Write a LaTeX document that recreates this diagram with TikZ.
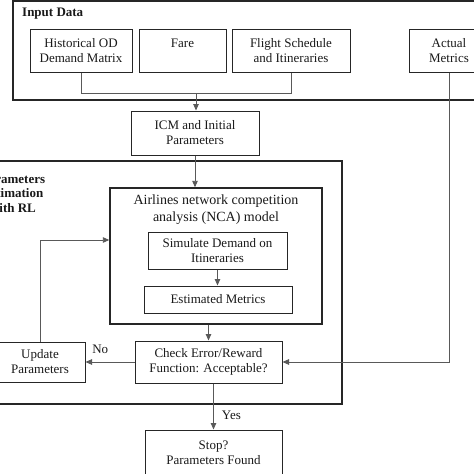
\documentclass[tikz,border=0pt]{standalone}
\usepackage{fontspec}
\setmainfont{Liberation Serif}
\usetikzlibrary{arrows.meta}
\begin{document}
\begin{tikzpicture}[x=1pt,y=-1pt,
  box/.style={draw=black!85,line width=1pt,align=center,inner sep=0pt,
    font=\fontsize{13}{15}\selectfont,text=black!90},
  frame/.style={draw=black!85,line width=1.5pt,inner sep=0pt},
  conn/.style={draw=black!65,line width=0.9pt},
  arr/.style={conn,-{Triangle[length=6.5pt,width=5.5pt]}},
  lbl/.style={font=\fontsize{13}{15}\selectfont,inner sep=0pt,text=black!90}]
\useasboundingbox (0,0) rectangle (474,474);
% frames
\node[frame,minimum width=467pt,minimum height=99pt] (inframe) at (246.5,50.5) {};
\node[frame,minimum width=352pt,minimum height=243pt] (pframe) at (166,282.5) {};
\node[lbl,anchor=west,font=\bfseries\fontsize{13}{15}\selectfont] (intitle) at (22,14) {Input Data};
\node[lbl,align=center,font=\bfseries\fontsize{13}{14.5}\selectfont] (ptitle) at (13,193.5) {Parameters\\Estimation\\with RL};
% input boxes
\node[box,minimum width=102pt,minimum height=43pt] (hist) at (81,50.5) {Historical OD\\Demand Matrix};
\node[box,minimum width=87pt,minimum height=43pt] (fare) at (182.5,50.5) {Fare\\\phantom{X}};
\node[box,minimum width=118pt,minimum height=43pt] (flight) at (291,50.5) {Flight Schedule\\and Itineraries};
\node[box,minimum width=80pt,minimum height=43pt] (actual) at (449,50.5) {Actual\\Metrics};
\node[box,minimum width=128pt,minimum height=44pt] (icm) at (195,133) {ICM and Initial\\Parameters};
% NCA
\node[box,line width=1.4pt,minimum width=212pt,minimum height=136pt] (nca) at (216,256) {};
\node[lbl,align=center,font=\fontsize{14}{17}\selectfont] (ncatitle) at (216,209.5) {Airlines network competition\\analysis (NCA) model};
\node[box,minimum width=139pt,minimum height=37pt] (sim) at (217.5,250.5) {Simulate Demand on\\Itineraries};
\node[box,minimum width=148pt,minimum height=27pt] (est) at (218,299.5) {Estimated Metrics};
\node[box,minimum width=147pt,minimum height=42pt] (check) at (208.5,362) {Check Error/Reward\\Function: Acceptable?};
\node[box,minimum width=90pt,minimum height=40pt] (update) at (40,362) {Update\\Parameters};
\node[box,minimum width=137pt,minimum height=46pt] (stop) at (213.5,453) {Stop?\\Parameters Found};
% connectors
\coordinate (join) at (196,93);
\draw[conn] (hist.south) -- (hist.south |- join) -- (flight.south |- join) -- (flight.south);
\draw[arr] (join) -- (join |- icm.north);
\draw[arr] (icm.south) -- (icm.south |- nca.north);
\draw[arr] (sim.south) -- (sim.south |- est.north);
\draw[arr] (check.north |- nca.south) -- (check.north);
\draw[arr] (check.west) -- (update.east) node[lbl,pos=0.7,above=8pt] (no) {No};
\draw[arr] (update.north) -- (update.north |- 0,240) -- (nca.west |- 0,240);
\draw[arr] (stop.north |- check.south) -- (stop.north) node[lbl,pos=0.7,right=8pt] (yes) {Yes};
\draw[arr] (actual.south) -- (actual.south |- check.east) -- (check.east);
\end{tikzpicture}
\end{document}
